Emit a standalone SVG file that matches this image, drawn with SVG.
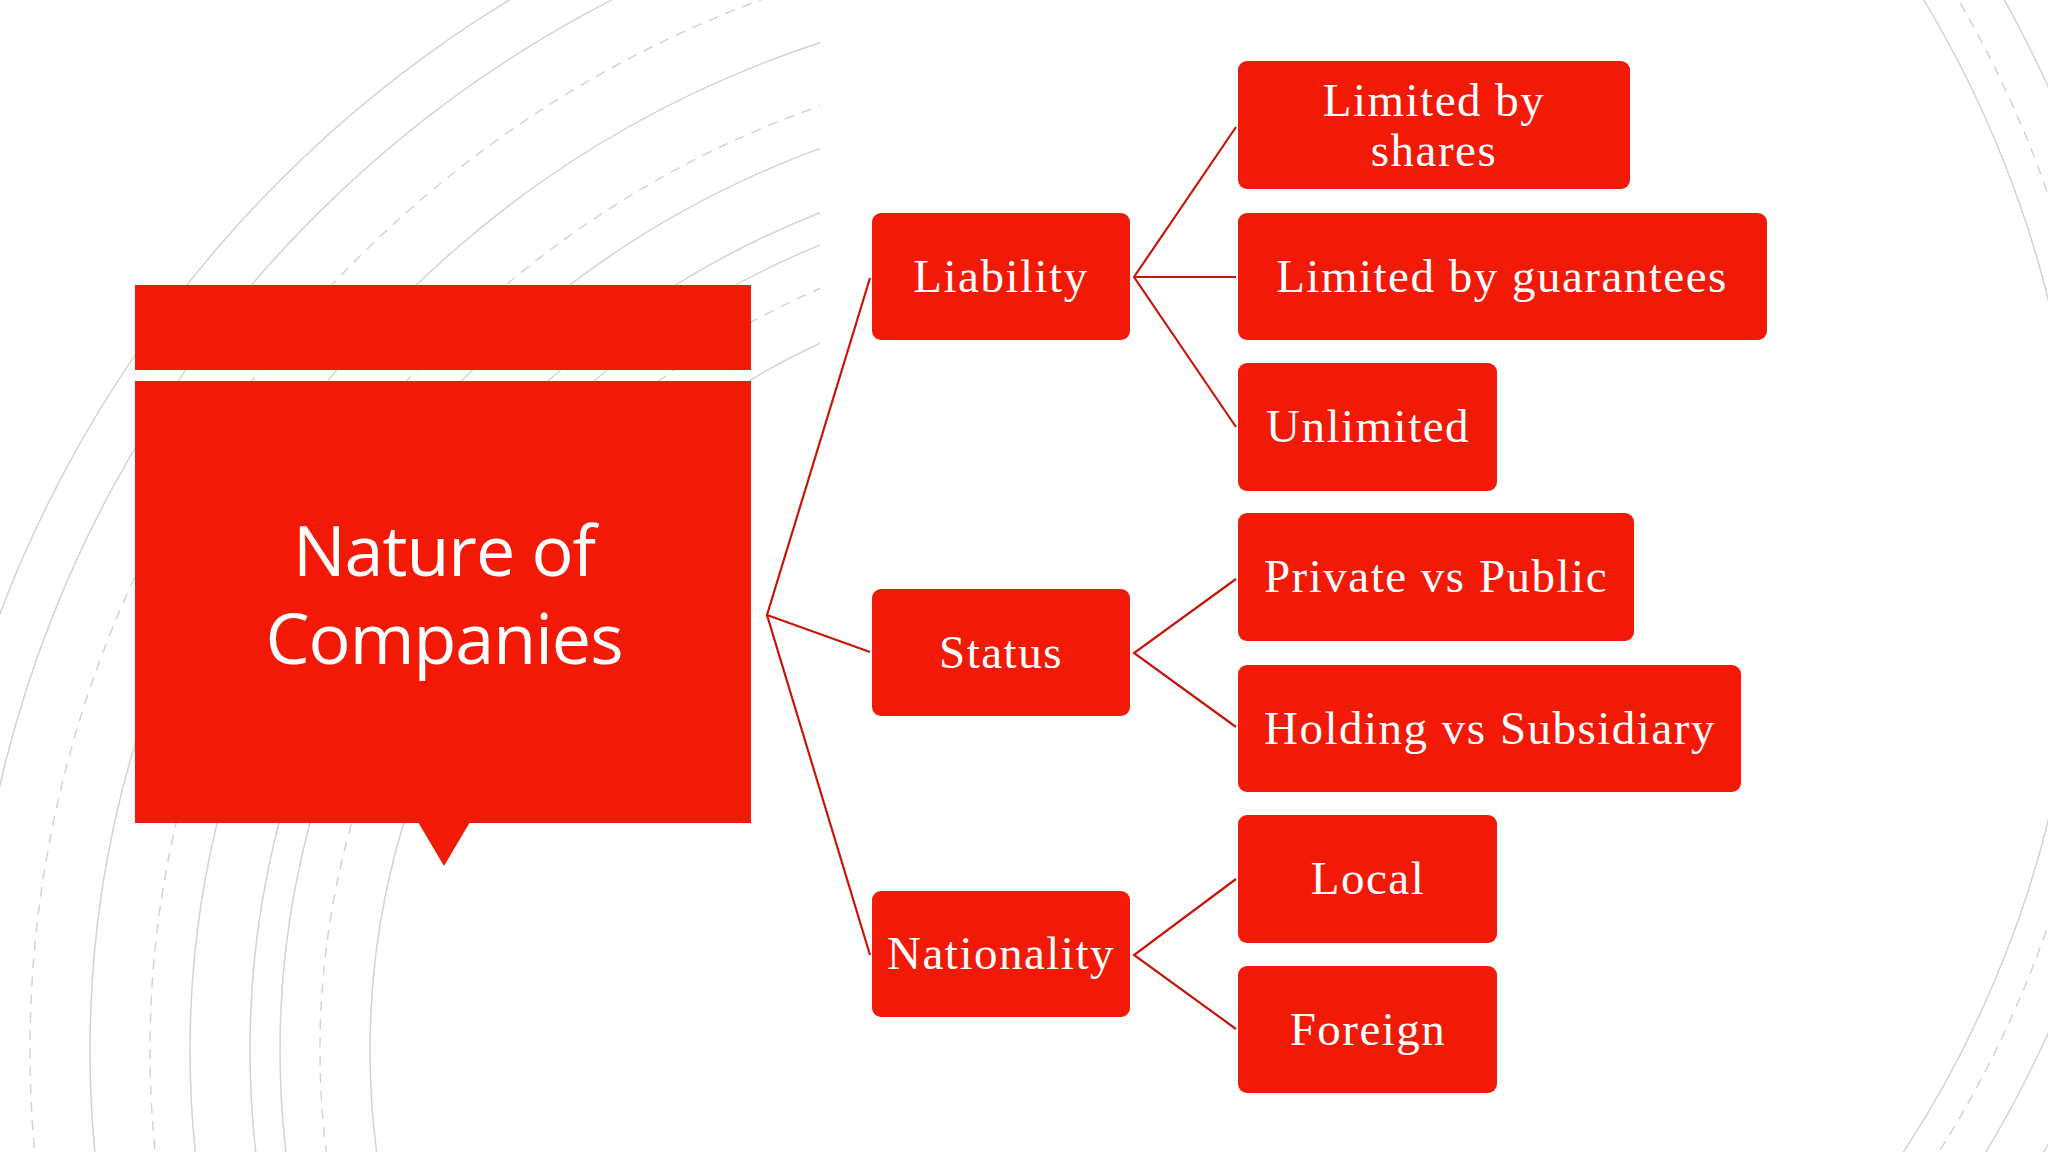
<svg xmlns="http://www.w3.org/2000/svg" width="2048" height="1152" viewBox="0 0 2048 1152">
<style>
.bg{fill:none;stroke:#d4d4d4;stroke-width:1.5}
.bgd{fill:none;stroke:#d4d4d4;stroke-width:1.5;stroke-dasharray:10 8}
.n{fill:#f21a07}
.t{font-family:"Liberation Serif",serif;font-size:47px;letter-spacing:1.5px;fill:#fff;text-anchor:middle}
.c{stroke:#c8150a;stroke-width:2.2;fill:none}
</style>
<defs>
<clipPath id="cl"><rect x="0" y="0" width="820" height="1152"/></clipPath>
<clipPath id="cr"><rect x="1700" y="0" width="348" height="1152"/></clipPath>
</defs>
<rect width="2048" height="1152" fill="#fff"/>
<g id="background">
<g clip-path="url(#cl)">
<circle class="bg" cx="1150" cy="1050" r="1230"/>
<circle class="bg" cx="1150" cy="1050" r="1180"/>
<circle class="bgd" cx="1150" cy="1050" r="1120"/>
<circle class="bg" cx="1150" cy="1050" r="1060"/>
<circle class="bgd" cx="1150" cy="1050" r="1000"/>
<circle class="bg" cx="1150" cy="1050" r="960"/>
<circle class="bg" cx="1150" cy="1050" r="900"/>
<circle class="bg" cx="1150" cy="1050" r="870"/>
<circle class="bgd" cx="1150" cy="1050" r="830"/>
<circle class="bg" cx="1150" cy="1050" r="780"/>
</g>
<g clip-path="url(#cr)">
<circle class="bg" cx="1000" cy="560" r="1080"/>
<circle class="bgd" cx="1000" cy="560" r="1110"/>
<circle class="bg" cx="1000" cy="560" r="1150"/>
<circle class="bg" cx="1000" cy="560" r="1200"/>
</g>
</g>
<g id="connectors">
<polyline class="c" points="870,278 767,615 870,955"/>
<line class="c" x1="767" y1="615" x2="870" y2="652"/>
<polyline class="c" points="1236,127 1134,277 1236,427"/>
<line class="c" x1="1134" y1="277" x2="1236" y2="277"/>
<polyline class="c" points="1236,579 1134,653 1236,727"/>
<polyline class="c" points="1236,879 1134,955 1236,1029"/>
</g>
<g id="title">
<rect class="n" x="135" y="285" width="616" height="85"/>
<rect class="n" x="135" y="381" width="616" height="442"/>
<polygon class="n" points="418,822 470,822 444,866"/>
<text x="444" y="576" font-family="'Open Sans',sans-serif" font-size="70" letter-spacing="-1" fill="#fff" text-anchor="middle">Nature of</text>
<text x="444" y="664" font-family="'Open Sans',sans-serif" font-size="70" letter-spacing="-1" fill="#fff" text-anchor="middle">Companies</text>
</g>
<g id="liability"><rect class="n" x="872" y="213" width="258" height="127" rx="9"/><text class="t" x="1001" y="292">Liability</text></g>
<g id="status"><rect class="n" x="872" y="589" width="258" height="127" rx="9"/><text class="t" x="1001" y="668">Status</text></g>
<g id="nationality"><rect class="n" x="872" y="891" width="258" height="126" rx="9"/><text class="t" x="1001" y="969">Nationality</text></g>
<g id="shares"><rect class="n" x="1238" y="61" width="392" height="128" rx="9"/><text class="t" x="1434" y="116">Limited by</text><text class="t" x="1434" y="166">shares</text></g>
<g id="guarantees"><rect class="n" x="1238" y="213" width="529" height="127" rx="9"/><text class="t" x="1502" y="292">Limited by guarantees</text></g>
<g id="unlimited"><rect class="n" x="1238" y="363" width="259" height="128" rx="9"/><text class="t" x="1368" y="442">Unlimited</text></g>
<g id="private"><rect class="n" x="1238" y="513" width="396" height="128" rx="9"/><text class="t" x="1436" y="592">Private vs Public</text></g>
<g id="holding"><rect class="n" x="1238" y="665" width="503" height="127" rx="9"/><text class="t" x="1490" y="744">Holding vs Subsidiary</text></g>
<g id="local"><rect class="n" x="1238" y="815" width="259" height="128" rx="9"/><text class="t" x="1368" y="894">Local</text></g>
<g id="foreign"><rect class="n" x="1238" y="966" width="259" height="127" rx="9"/><text class="t" x="1368" y="1045">Foreign</text></g>
</svg>
